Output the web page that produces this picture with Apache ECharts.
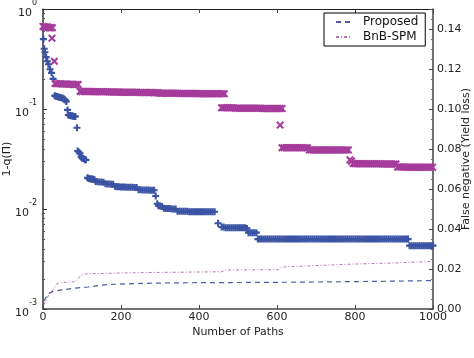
<!DOCTYPE html>
<html><head><meta charset="utf-8">
<script src="https://cdn.jsdelivr.net/npm/echarts@6/dist/echarts.min.js"></script>
<style>html,body{margin:0;padding:0;background:#fff}#c{width:474px;height:358px}</style>
</head><body><div id="c"></div>
<script>
// 1-q(Pi) for the proposed method (blue +), [number of paths, value]
const proposedQ = [
[1,0.50],[3,0.40],[5,0.37],[8,0.33],[11,0.30],[14,0.28],[18,0.25],[22,0.23],[26,0.20],
[30,0.136],[33,0.134],[36,0.133],[39,0.132],[42,0.131],[45,0.130],[48,0.129],[51,0.128],[54,0.126],[57,0.123],[60,0.119],
[63,0.098],
[65,0.087],[68,0.086],[71,0.086],[74,0.085],[77,0.085],[80,0.084],[83,0.084],
[87,0.065],
[89,0.038],[92,0.037],[95,0.036],
[98,0.033],[101,0.032],[104,0.032],[107,0.031],[110,0.031],
[114,0.0205],[117,0.0202],[120,0.0201],[123,0.0200],[126,0.0199],[129,0.0198],[132,0.0196],
[135,0.0188],[140,0.0187],[145,0.0186],[150,0.0186],[155,0.0185],
[160,0.0179],[165,0.0178],[170,0.0178],[175,0.0177],[180,0.0177],
[185,0.0168],[190,0.0167],[195,0.0167],[200,0.0166],[205,0.0166],[210,0.0166],[215,0.0165],[220,0.0165],[225,0.0165],[230,0.0165],[235,0.0164],[240,0.0164],
[245,0.0156],[250,0.0156],[255,0.0155],[260,0.0155],[265,0.0155],[270,0.0155],[275,0.0154],[280,0.0154],[285,0.0154],
[289,0.0135],[293,0.0113],
[296,0.0108],[300,0.0107],[305,0.0106],
[310,0.0102],[315,0.0101],[320,0.0101],[325,0.0101],[330,0.0100],[335,0.0100],[340,0.0100],
[345,0.0095],[350,0.0095],[355,0.0095],[360,0.0095],[365,0.0095],[370,0.0095],[375,0.0094],[380,0.0094],[385,0.0094],[390,0.0094],
[395,0.0094],[400,0.0094],[405,0.0094],[410,0.0094],[415,0.0094],[420,0.0094],[425,0.0094],[430,0.0094],[435,0.0094],[440,0.0094],
[449,0.0072],
[458,0.0066],[463,0.0066],[468,0.0065],[473,0.0065],[478,0.0065],[483,0.0065],[488,0.0065],[493,0.0065],[498,0.0065],[503,0.0065],
[508,0.0065],[513,0.0065],[518,0.0065],[523,0.0064],
[527,0.0058],[532,0.0058],[537,0.0058],[542,0.0058],[547,0.0058],
[551,0.0050],[556,0.0050],[561,0.0050],[566,0.0050],[571,0.0050],[576,0.0050],[581,0.0050],[586,0.0050],[591,0.0050],[596,0.0050],
[601,0.0050],[606,0.0050],[611,0.0050],[616,0.0050],[621,0.0050],[626,0.0050],[631,0.0050],[636,0.0050],[641,0.0050],[646,0.0050],
[651,0.0050],[656,0.0050],[661,0.0050],[666,0.0050],[671,0.0050],[676,0.0050],[681,0.0050],[686,0.0050],[691,0.0050],[696,0.0050],
[701,0.0050],[706,0.0050],[711,0.0050],[716,0.0050],[721,0.0050],[726,0.0050],[731,0.0050],[736,0.0050],[741,0.0050],[746,0.0050],
[751,0.0050],[756,0.0050],[761,0.0050],[766,0.0050],[771,0.0050],[776,0.0050],[781,0.0050],[786,0.0050],[791,0.0050],[796,0.0050],
[801,0.0050],[806,0.0050],[811,0.0050],[816,0.0050],[821,0.0050],[826,0.0050],[831,0.0050],[836,0.0050],[841,0.0050],[846,0.0050],
[851,0.0050],[856,0.0050],[861,0.0050],[866,0.0050],[871,0.0050],[876,0.0050],[881,0.0050],[886,0.0050],[891,0.0050],[896,0.0050],
[901,0.0050],[906,0.0050],[911,0.0050],[916,0.0050],[921,0.0050],[926,0.0050],[931,0.0050],[936,0.0050],
[940,0.0043],[945,0.0043],[950,0.0043],[955,0.0043],[960,0.0043],[965,0.0043],[970,0.0043],[975,0.0043],[980,0.0043],[985,0.0043],
[990,0.0043],[995,0.0043],[1000,0.0043]
];

// 1-q(Pi) for BnB-SPM (magenta x)
const bnbQ = [
[0,0.67],[3,0.66],[6,0.66],[9,0.66],[12,0.66],[15,0.65],[18,0.65],[21,0.65],[24,0.65],
[23,0.51],
[29,0.30],
[31,0.180],[35,0.179],[40,0.179],[45,0.179],[50,0.178],[55,0.178],[60,0.178],[65,0.177],[70,0.177],[75,0.177],[80,0.176],[85,0.176],[90,0.176],
[95,0.150],[100,0.150],[105,0.150],[110,0.150],[115,0.150],[120,0.150],[125,0.150],[130,0.149],[135,0.149],[140,0.149],
[145,0.149],[150,0.149],[155,0.149],[160,0.149],[165,0.149],[170,0.148],[175,0.148],[180,0.148],[185,0.148],[190,0.148],
[195,0.148],[200,0.147],[205,0.147],[210,0.147],[215,0.147],[220,0.147],[225,0.147],[230,0.147],[235,0.147],[240,0.147],
[245,0.146],[250,0.146],[255,0.146],[260,0.146],[265,0.146],[270,0.146],[275,0.146],[280,0.146],[285,0.145],[290,0.145],
[295,0.145],[300,0.144],[305,0.144],[310,0.144],[315,0.144],[320,0.144],[325,0.144],[330,0.144],[335,0.144],[340,0.144],
[345,0.144],[350,0.143],[355,0.143],[360,0.143],[365,0.143],[370,0.143],[375,0.143],[380,0.143],[385,0.143],[390,0.143],
[395,0.143],[400,0.142],[405,0.142],[410,0.142],[415,0.142],[420,0.142],[425,0.142],[430,0.142],[435,0.142],[440,0.142],
[445,0.142],[450,0.142],[455,0.142],[460,0.142],[465,0.142],
[458,0.103],[463,0.103],[468,0.103],[473,0.103],[478,0.103],[483,0.103],[488,0.103],[493,0.102],[498,0.102],[503,0.102],
[508,0.102],[513,0.102],[518,0.102],[523,0.102],[528,0.102],[533,0.102],[538,0.102],[543,0.102],[548,0.102],[553,0.102],
[558,0.102],[563,0.101],[568,0.101],[573,0.101],[578,0.101],[583,0.101],[588,0.101],[593,0.101],[598,0.101],[603,0.101],
[608,0.101],[613,0.101],
[608,0.069],
[613,0.041],[618,0.041],[623,0.041],[628,0.041],[633,0.041],[638,0.041],[643,0.041],[648,0.041],[653,0.041],[658,0.041],
[663,0.041],[668,0.041],[673,0.041],[678,0.041],
[683,0.039],[688,0.039],[693,0.039],[698,0.039],[703,0.039],[708,0.039],[713,0.039],[718,0.039],[723,0.039],[728,0.039],
[733,0.039],[738,0.039],[743,0.039],[748,0.039],[753,0.039],[758,0.039],[763,0.039],[768,0.039],[773,0.039],[778,0.039],
[783,0.039],
[787,0.031],[791,0.030],
[795,0.0285],[800,0.0284],[805,0.0284],[810,0.0284],[815,0.0284],[820,0.0284],[825,0.0284],[830,0.0283],[835,0.0283],[840,0.0283],
[845,0.0283],[850,0.0283],[855,0.0283],[860,0.0283],[865,0.0283],[870,0.0282],[875,0.0282],[880,0.0282],[885,0.0282],[890,0.0282],
[895,0.0282],[900,0.0282],[905,0.0282],
[909,0.0263],[914,0.0263],[919,0.0263],[924,0.0263],[929,0.0263],[934,0.0262],[939,0.0262],[944,0.0262],[949,0.0262],[954,0.0262],
[959,0.0262],[964,0.0262],[969,0.0262],[974,0.0262],[979,0.0262],[984,0.0262],[989,0.0262],[994,0.0262],[999,0.0262]
];

// False negative (yield loss), right axis
const proposedFN = [
[3,0.0040],[8,0.0060],[15,0.0078],[26,0.0088],[40,0.0093],[60,0.0098],[80,0.0104],[115,0.0110],[162,0.0122],
[250,0.0128],[350,0.0131],[450,0.0132],[550,0.0133],[650,0.0134],[750,0.0136],[850,0.0138],[1000,0.0142]
];
const bnbFN = [
[2,0.0020],[8,0.0046],[15,0.0070],[26,0.0097],[35,0.0125],[46,0.0133],[60,0.0134],[82,0.0136],[90,0.0154],[100,0.0170],
[110,0.0176],[200,0.0180],[300,0.0183],[400,0.0185],[459,0.0186],[467,0.0195],[550,0.0196],[603,0.0197],[615,0.0210],
[700,0.0217],[800,0.0225],[900,0.0230],[1000,0.0238]
];

const leftMinorTicks = [0.002,0.003,0.004,0.005,0.006,0.007,0.008,0.009,
  0.02,0.03,0.04,0.05,0.06,0.07,0.08,0.09,
  0.2,0.3,0.4,0.5,0.6,0.7,0.8,0.9];

const F = 'DejaVu Sans';
const BLUE = '#3a53a4', MAG = '#a53c9b';
const plusPath = 'path://M3.5,0H6.5V3.5H10V6.5H6.5V10H3.5V6.5H0V3.5H3.5Z';
const crossPath = 'path://M0,1.8L1.8,0L5,3.2L8.2,0L10,1.8L6.8,5L10,8.2L8.2,10L5,6.8L1.8,10L0,8.2L3.2,5Z';
const txt = {fontFamily:F, fontSize:11, color:'#222'};

const chart = echarts.init(document.getElementById('c'));
chart.setOption({
  animation:false,
  grid:{left:43,right:41,top:9,bottom:49,containLabel:false,outerBoundsMode:'none'},
  legend:{
    data:['Proposed','BnB-SPM'], orient:'vertical', left:324, top:13,
    padding:[3,7,3,11], itemGap:3, itemWidth:16, itemHeight:10,
    borderColor:'#000', borderWidth:1, backgroundColor:'#fff', selectedMode:false,
    itemStyle:{opacity:0, borderWidth:0},
    textStyle:{fontFamily:F, fontSize:12, color:'#111', padding:[0,0,0,6]}
  },
  xAxis:[{
    type:'value', min:0, max:1000, interval:200, position:'bottom',
    name:'Number of Paths', nameLocation:'middle', nameGap:18, nameMoveOverlap:false, nameTextStyle:txt,
    axisLine:{onZero:false, lineStyle:{color:'#444', width:1.5}},
    axisTick:{inside:true, length:4, lineStyle:{color:'#444'}},
    axisLabel:Object.assign({margin:3, formatter:function(v){ return String(v); }}, txt), splitLine:{show:false}
  },{
    type:'value', min:0, max:1000, interval:200, position:'top',
    axisLine:{onZero:false, lineStyle:{color:'#222', width:1}},
    axisTick:{inside:true, length:4, lineStyle:{color:'#444'}},
    axisLabel:{show:false}, splitLine:{show:false}
  }],
  yAxis:[{
    type:'log', logBase:10, min:0.001, max:1, position:'left',
    name:'1-q(Π)', nameLocation:'middle', nameGap:30, nameMoveOverlap:false, nameTextStyle:txt,
    axisLine:{show:true, onZero:false, lineStyle:{color:'#333', width:1.5}},
    axisTick:{show:true, inside:true, length:4, lineStyle:{color:'#333'}},
    axisLabel:{
      margin:6,
      formatter:function(v){ return '{b|10}{s|' + Math.round(Math.log10(v)) + '}'; },
      rich:{
        b:{fontFamily:F, fontSize:11, color:'#222', verticalAlign:'bottom', lineHeight:20},
        s:{fontFamily:F, fontSize:8, color:'#222', verticalAlign:'top', lineHeight:20}
      }
    },
    splitLine:{show:false}
  },{
    type:'value', min:0, max:0.15, interval:0.02, position:'right',
    name:'False negative (Yield loss)', nameLocation:'middle', nameGap:28, nameMoveOverlap:false, nameTextStyle:txt,
    axisLine:{show:true, onZero:false, lineStyle:{color:'#444', width:1.5}},
    axisTick:{show:true, inside:true, length:4, lineStyle:{color:'#444'}},
    minorTick:{show:true, splitNumber:4, length:2, lineStyle:{color:'#666'}},
    axisLabel:Object.assign({margin:4, formatter:function(v){ return v > 0.145 ? '' : v.toFixed(2); }}, txt),
    splitLine:{show:false}
  },{
    type:'log', logBase:10, min:0.001, max:1, position:'left',
    axisLine:{show:false}, axisLabel:{show:false}, splitLine:{show:false},
    axisTick:{show:true, inside:true, length:2, customValues:leftMinorTicks, lineStyle:{color:'#555'}}
  }],
  series:[{
    type:'scatter', name:'Proposed q', xAxisIndex:0, yAxisIndex:0, data:proposedQ,
    symbol:plusPath, symbolSize:7, itemStyle:{color:BLUE, opacity:1}, silent:true
  },{
    type:'scatter', name:'BnB q', xAxisIndex:0, yAxisIndex:0, data:bnbQ,
    symbol:crossPath, symbolSize:8, itemStyle:{color:MAG, opacity:1}, silent:true
  },{
    type:'line', name:'Proposed', xAxisIndex:0, yAxisIndex:1, data:proposedFN,
    symbol:'none', itemStyle:{color:'#4c5ea4'},
    lineStyle:{color:'#4c5ea4', width:1.2, type:[5,4]}
  },{
    type:'line', name:'BnB-SPM', xAxisIndex:0, yAxisIndex:1, data:bnbFN,
    symbol:'none', itemStyle:{color:'#b077b0'},
    lineStyle:{color:'#b077b0', width:1, type:[3,2,1,2]}
  }]
});
</script></body></html>
